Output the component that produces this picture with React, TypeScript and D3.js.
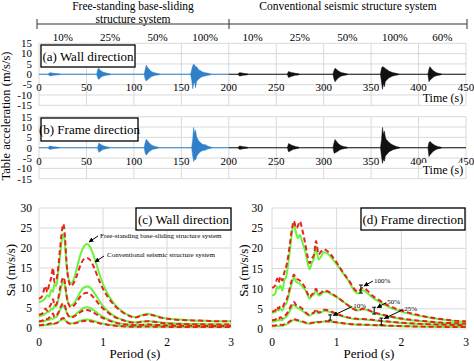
import React from "react";
import * as d3 from "d3";

// ---------- DATA ----------
const headerGroups = ["Free-standing base-sliding|structure system", "Conventional seismic structure system"];
const levelLabels = ["10%", "25%", "50%", "100%", "10%", "25%", "50%", "100%", "60%"];
const levelTimes = [25, 75, 125, 175, 225, 275, 325, 375, 425];
const timeTicks = [0, 50, 100, 150, 200, 250, 300, 350, 400, 450];
const accTicks = [-15, -10, -5, 0, 5, 10, 15];
const saTicks = [0, 5, 10, 15, 20, 25, 30];
const periodTicks = [0, 1, 2, 3];

// bursts: start time (s), 1-s envelope samples (upper, lower) in m/s/s
type Burst = { start: number; up: number[]; lo: number[] };
const wallFS: Burst[] = [
  { start: 10, up: [0.3, 0.6, 0.8, 0.7, 0.6, 0.5, 0.5, 0.4, 0.4, 0.3, 0.3, 0.2, 0.2], lo: [-0.3, -0.6, -0.8, -0.7, -0.6, -0.5, -0.4, -0.4, -0.3, -0.3, -0.2, -0.2, -0.2] },
  { start: 61, up: [0.5, 2.5, 3.0, 2.2, 1.8, 1.5, 1.2, 1.0, 0.9, 0.8, 0.6, 0.5, 0.4, 0.3, 0.2], lo: [-0.5, -1.8, -2.5, -2.0, -1.6, -1.2, -1.0, -0.8, -0.7, -0.6, -0.5, -0.4, -0.3, -0.3, -0.2] },
  { start: 111, up: [0.5, 2.5, 4.5, 3.5, 3.0, 2.6, 2.0, 1.5, 1.2, 1.0, 0.9, 0.7, 0.6, 0.5, 0.4, 0.3, 0.2], lo: [-0.5, -2.5, -3.2, -2.8, -2.5, -2.0, -1.6, -1.3, -1.0, -0.9, -0.7, -0.6, -0.5, -0.4, -0.3, -0.3, -0.2] },
  { start: 160, up: [0.5, 2.5, 4.0, 5.0, 4.5, 3.5, 3.8, 3.0, 2.5, 2.0, 1.8, 1.5, 1.2, 1.0, 0.9, 0.8, 0.7, 0.6, 0.5, 0.4, 0.3, 0.2], lo: [-0.5, -3.0, -7.0, -4.5, -4.0, -6.5, -3.5, -3.0, -2.5, -2.0, -1.7, -1.4, -1.2, -1.0, -0.9, -0.8, -0.7, -0.6, -0.5, -0.4, -0.3, -0.2] },
];
const frameFS: Burst[] = [
  { start: 10, up: [0.3, 0.7, 0.8, 0.7, 0.6, 0.5, 0.5, 0.4, 0.3, 0.3, 0.2, 0.2], lo: [-0.3, -0.7, -0.8, -0.7, -0.6, -0.5, -0.4, -0.4, -0.3, -0.3, -0.2, -0.2] },
  { start: 62, up: [0.5, 2.2, 2.0, 1.6, 1.4, 1.1, 0.9, 0.8, 0.6, 0.5, 0.4, 0.3, 0.2], lo: [-0.5, -2.2, -2.0, -1.6, -1.3, -1.0, -0.8, -0.7, -0.6, -0.5, -0.4, -0.3, -0.2] },
  { start: 111, up: [0.5, 2.5, 4.0, 3.6, 3.0, 2.4, 1.9, 1.5, 1.2, 1.0, 0.8, 0.7, 0.5, 0.4, 0.3, 0.2], lo: [-0.5, -2.8, -3.6, -3.0, -2.5, -2.0, -1.6, -1.3, -1.0, -0.8, -0.7, -0.6, -0.5, -0.4, -0.3, -0.2] },
  { start: 161, up: [0.5, 4.0, 9.8, 7.0, 8.5, 5.5, 4.5, 3.5, 3.0, 2.5, 2.2, 1.8, 1.6, 1.4, 1.6, 1.2, 1.0, 0.8, 0.6, 0.5, 0.3, 0.2], lo: [-0.5, -4.0, -6.8, -5.5, -6.0, -4.5, -3.5, -3.0, -2.5, -2.0, -1.8, -1.5, -1.3, -1.2, -1.3, -1.0, -0.8, -0.6, -0.5, -0.4, -0.3, -0.2] },
];
const wallCS: Burst[] = [
  { start: 210, up: [0.3, 0.7, 0.8, 0.7, 0.6, 0.5, 0.4, 0.4, 0.3, 0.3, 0.2], lo: [-0.3, -0.7, -0.8, -0.7, -0.6, -0.5, -0.4, -0.4, -0.3, -0.3, -0.2] },
  { start: 262, up: [0.5, 1.3, 1.2, 1.0, 0.9, 0.8, 0.7, 0.6, 0.5, 0.4, 0.4, 0.3, 0.2], lo: [-0.5, -1.5, -1.4, -1.2, -1.0, -0.9, -0.7, -0.6, -0.5, -0.4, -0.4, -0.3, -0.2] },
  { start: 310, up: [0.5, 2.0, 2.9, 2.6, 2.2, 1.8, 1.5, 1.2, 1.0, 0.8, 0.7, 0.6, 0.5, 0.4, 0.3, 0.2], lo: [-0.5, -2.5, -3.6, -3.0, -2.4, -2.0, -1.6, -1.3, -1.0, -0.8, -0.7, -0.6, -0.5, -0.4, -0.3, -0.2] },
  { start: 360, up: [0.5, 3.0, 3.7, 3.5, 3.2, 2.8, 2.5, 2.2, 1.8, 1.5, 1.3, 1.1, 1.0, 0.8, 0.7, 0.6, 0.5, 0.4, 0.3, 0.2], lo: [-0.5, -4.0, -7.3, -4.5, -6.0, -3.5, -3.0, -2.5, -2.0, -1.7, -1.4, -1.2, -1.0, -0.8, -0.7, -0.6, -0.5, -0.4, -0.3, -0.2] },
  { start: 410, up: [0.5, 2.5, 3.7, 3.0, 2.5, 2.0, 1.6, 1.3, 1.0, 0.8, 0.6, 0.5, 0.4, 0.3, 0.2], lo: [-0.5, -3.6, -2.8, -2.5, -2.0, -1.6, -1.3, -1.0, -0.8, -0.7, -0.6, -0.5, -0.4, -0.3, -0.2] },
];
const frameCS: Burst[] = [
  { start: 210, up: [0.3, 0.7, 0.8, 0.7, 0.6, 0.5, 0.4, 0.4, 0.3, 0.3, 0.2], lo: [-0.3, -0.7, -0.8, -0.7, -0.6, -0.5, -0.4, -0.4, -0.3, -0.3, -0.2] },
  { start: 262, up: [0.5, 2.0, 1.8, 1.5, 1.3, 1.1, 0.9, 0.8, 0.6, 0.5, 0.4, 0.3, 0.2], lo: [-0.5, -2.0, -1.8, -1.5, -1.3, -1.0, -0.8, -0.7, -0.6, -0.5, -0.4, -0.3, -0.2] },
  { start: 310, up: [0.5, 2.5, 4.0, 3.4, 2.8, 2.2, 1.8, 1.4, 1.1, 0.9, 0.7, 0.6, 0.5, 0.4, 0.3, 0.2], lo: [-0.5, -2.7, -2.5, -2.3, -2.0, -1.7, -1.4, -1.1, -0.9, -0.7, -0.6, -0.5, -0.4, -0.3, -0.3, -0.2] },
  { start: 360, up: [0.5, 4.0, 9.8, 6.5, 8.0, 5.0, 4.0, 3.5, 3.0, 2.5, 2.2, 1.8, 1.5, 1.3, 1.1, 0.9, 0.7, 0.5, 0.4, 0.3, 0.2], lo: [-0.5, -4.5, -7.6, -5.5, -6.5, -4.0, -3.5, -3.0, -2.5, -2.0, -1.7, -1.5, -1.2, -1.0, -0.9, -0.7, -0.6, -0.5, -0.4, -0.3, -0.2] },
  { start: 410, up: [0.5, 2.5, 3.0, 2.6, 2.2, 1.8, 1.5, 1.2, 1.0, 0.8, 0.6, 0.5, 0.4, 0.3, 0.2], lo: [-0.5, -4.3, -3.5, -3.0, -2.5, -2.0, -1.6, -1.3, -1.0, -0.8, -0.6, -0.5, -0.4, -0.3, -0.2] },
];

// response spectra, wall direction (c)
const periodsC = [0, 0.05, 0.1, 0.13, 0.16, 0.19, 0.22, 0.24, 0.27, 0.3, 0.33, 0.36, 0.38, 0.4, 0.43, 0.46, 0.5, 0.55, 0.6, 0.65, 0.7, 0.75, 0.8, 0.85, 0.9, 0.95, 1.0, 1.1, 1.2, 1.3, 1.4, 1.5, 1.6, 1.7, 1.8, 1.9, 2.0, 2.2, 2.4, 2.6, 2.8, 3.0];
const wallFS100 = [6.5, 6.8, 7.5, 8.2, 7.8, 9.5, 9, 11, 10.5, 14, 18, 22.5, 23.5, 22, 16, 12.5, 11.2, 12.5, 15.5, 18.5, 20.3, 21, 20.2, 18.3, 15.8, 13.2, 11, 7.8, 5.6, 4.2, 3.2, 2.7, 3.2, 3.5, 3.2, 2.7, 2.4, 2.1, 1.9, 1.8, 1.7, 1.7];
const wallCS100 = [7.3, 8, 10.5, 9, 11, 12.5, 15, 11.5, 12, 15, 20, 24.5, 26, 24, 16.5, 12, 10.5, 11.5, 13.5, 15.8, 17.2, 17.5, 17, 15.5, 13.5, 11.5, 9.8, 7.2, 5.3, 4.0, 3.1, 2.6, 3.1, 3.4, 3.1, 2.6, 2.3, 2.0, 1.9, 1.8, 1.7, 1.7];
const wallFS50 = [3.0, 3.2, 3.6, 4.0, 4.1, 4.8, 4.7, 5.5, 5.4, 7, 9, 11, 11.5, 11, 8, 6.2, 5.6, 6.2, 7.6, 9.1, 10.1, 10.4, 10.1, 9.1, 7.9, 6.6, 5.5, 3.9, 2.8, 2.1, 1.6, 1.4, 1.6, 1.75, 1.6, 1.4, 1.25, 1.1, 1.0, 0.95, 0.9, 0.9];
const wallCS50 = [3.3, 3.6, 4.8, 4.3, 5.2, 6.0, 7.2, 5.6, 5.9, 7.4, 10, 12, 12.7, 11.8, 8.2, 6, 5.2, 5.7, 6.7, 7.9, 8.6, 8.8, 8.5, 7.7, 6.7, 5.7, 4.9, 3.6, 2.6, 2.0, 1.55, 1.3, 1.55, 1.7, 1.55, 1.3, 1.15, 1.0, 0.95, 0.9, 0.85, 0.85];
const wallFS25 = [1.5, 1.6, 1.8, 2.0, 2.0, 2.4, 2.3, 2.7, 2.7, 3.5, 4.5, 5.3, 5.5, 5.2, 4.0, 3.1, 2.8, 3.1, 3.8, 4.5, 5.0, 5.2, 5.0, 4.5, 3.9, 3.3, 2.8, 2.0, 1.4, 1.05, 0.85, 0.75, 0.8, 0.88, 0.8, 0.72, 0.65, 0.6, 0.55, 0.5, 0.5, 0.5];
const wallCS25 = [1.7, 1.8, 2.4, 2.2, 2.6, 3.0, 3.6, 2.8, 3.0, 3.8, 5.0, 5.9, 6.2, 5.8, 4.1, 3.0, 2.6, 2.9, 3.4, 4.0, 4.4, 4.5, 4.3, 3.9, 3.4, 2.9, 2.5, 1.8, 1.3, 1.0, 0.8, 0.7, 0.78, 0.85, 0.78, 0.7, 0.62, 0.58, 0.53, 0.5, 0.48, 0.48];
const wallFS10 = [0.6, 0.65, 0.75, 0.8, 0.8, 0.95, 0.95, 1.1, 1.1, 1.4, 1.8, 2.1, 2.2, 2.1, 1.6, 1.25, 1.1, 1.25, 1.5, 1.8, 2.0, 2.1, 2.0, 1.8, 1.55, 1.3, 1.1, 0.8, 0.6, 0.45, 0.38, 0.33, 0.35, 0.38, 0.35, 0.32, 0.3, 0.28, 0.26, 0.25, 0.24, 0.24];
const wallCS10 = [0.7, 0.75, 1.0, 0.9, 1.05, 1.2, 1.45, 1.1, 1.2, 1.5, 2.0, 2.4, 2.5, 2.3, 1.65, 1.2, 1.05, 1.15, 1.35, 1.6, 1.75, 1.8, 1.7, 1.55, 1.35, 1.15, 1.0, 0.72, 0.55, 0.42, 0.35, 0.3, 0.33, 0.36, 0.33, 0.3, 0.28, 0.26, 0.24, 0.23, 0.22, 0.22];

// response spectra, frame direction (d)
const periodsD = [0, 0.05, 0.08, 0.1, 0.13, 0.16, 0.19, 0.22, 0.25, 0.28, 0.31, 0.34, 0.37, 0.4, 0.43, 0.47, 0.51, 0.55, 0.58, 0.62, 0.65, 0.68, 0.72, 0.76, 0.8, 0.85, 0.9, 1.0, 1.1, 1.2, 1.27, 1.33, 1.4, 1.47, 1.55, 1.65, 1.8, 2.0, 2.2, 2.4, 2.6, 2.8, 3.0];
const frameFS100 = [8.3, 8.8, 10.5, 10, 10.8, 9.5, 12, 13, 16, 20, 24, 26.3, 24, 22.5, 23.3, 21.5, 19.5, 16.5, 14.8, 16.5, 17.5, 20.5, 17.2, 18, 19, 18.8, 18, 16, 13.8, 11.5, 9.5, 8.8, 9.6, 9.0, 7.8, 6.8, 5.5, 4.3, 3.5, 2.9, 2.4, 2.0, 1.8];
const frameCS100 = [10.2, 10.8, 12.5, 11.5, 13, 12, 14, 15.5, 18, 21.5, 25, 26.8, 25, 25.5, 26.7, 24.5, 21.5, 18, 16.3, 17.5, 18.5, 21.8, 18.5, 19.2, 19.8, 19.4, 18.6, 16.5, 14, 11.8, 10, 9.2, 10.2, 9.6, 8.3, 7.2, 5.8, 4.6, 3.7, 3.0, 2.5, 2.1, 1.9];
const frameFS50 = [4.0, 4.2, 4.8, 4.6, 5.0, 4.6, 5.8, 6.3, 7.8, 9.8, 11.5, 12.8, 11.8, 11.5, 11.2, 10.5, 9.8, 8.5, 7.5, 8.3, 8.6, 9.7, 8.3, 8.6, 9.2, 9.2, 8.8, 7.9, 6.8, 5.6, 4.9, 4.6, 4.9, 4.7, 4.2, 3.7, 3.1, 2.5, 2.1, 1.8, 1.55, 1.4, 1.3];
const frameCS50 = [4.3, 4.6, 5.5, 5.0, 5.6, 5.3, 6.3, 7.0, 8.5, 10.5, 12.3, 13.5, 12.5, 12.3, 12.0, 11.3, 10.3, 8.8, 7.9, 8.6, 9.0, 10.0, 8.7, 9.0, 9.5, 9.4, 9.0, 8.0, 6.8, 5.6, 4.9, 4.6, 5.0, 4.8, 4.3, 3.8, 3.2, 2.6, 2.2, 1.9, 1.6, 1.45, 1.35];
const frameFS25 = [1.8, 1.9, 2.2, 2.1, 2.3, 2.2, 2.7, 3.0, 3.7, 4.6, 5.5, 6.0, 5.5, 5.2, 5.0, 4.5, 4.0, 3.5, 3.3, 3.7, 3.9, 4.6, 3.9, 4.1, 4.5, 4.4, 4.2, 3.6, 3.1, 2.7, 2.5, 2.4, 2.4, 2.3, 2.2, 2.0, 1.8, 1.5, 1.3, 1.15, 1.05, 1.0, 0.95];
const frameCS25 = [2.2, 2.3, 2.8, 2.5, 2.9, 2.7, 3.2, 3.6, 4.3, 5.3, 6.2, 6.7, 6.0, 5.6, 5.5, 5.0, 4.3, 3.7, 3.5, 3.9, 4.1, 4.9, 4.1, 4.3, 4.8, 4.7, 4.4, 3.8, 3.2, 2.8, 2.6, 2.5, 2.5, 2.4, 2.3, 2.1, 1.85, 1.55, 1.35, 1.2, 1.1, 1.0, 0.95];
const frameFS10 = [0.6, 0.65, 0.8, 0.75, 0.85, 0.8, 1.0, 1.1, 1.4, 1.7, 2.0, 2.3, 2.1, 2.0, 1.9, 1.7, 1.5, 1.35, 1.3, 1.45, 1.55, 1.8, 1.6, 1.7, 1.85, 1.85, 1.8, 1.6, 1.4, 1.2, 1.1, 1.05, 1.05, 1.0, 0.95, 0.9, 0.8, 0.7, 0.62, 0.56, 0.52, 0.5, 0.48];
const frameCS10 = [0.8, 0.85, 1.0, 0.95, 1.05, 1.0, 1.2, 1.35, 1.6, 1.95, 2.3, 2.5, 2.3, 2.2, 2.1, 1.9, 1.65, 1.45, 1.4, 1.55, 1.65, 1.95, 1.7, 1.8, 1.95, 1.95, 1.85, 1.65, 1.45, 1.25, 1.15, 1.1, 1.1, 1.05, 1.0, 0.92, 0.82, 0.72, 0.64, 0.58, 0.54, 0.51, 0.49];

// range markers in (d): label, period, Sa low, Sa high
const markLabels = ["100%", "50%", "25%", "10%"];
const markPeriods = [1.375, 1.58, 1.69, 0.9];
const markLow = [8.9, 3.7, 1.0, 2.2];
const markHigh = [10.9, 5.4, 2.7, 3.5];

// ---------- STYLE ----------
const FONT = "Liberation Serif";
const GRID = "#d9d9d9";
const BLUE = "#2f80c8";
const BLACK = "#111111";
const GREEN = "#6cf23c";
const RED = "#e8231e";

const xT = d3.scaleLinear().domain([0, 450]).range([39, 466]);
const yA = d3.scaleLinear().domain([-15, 15]).range([105.3, 43.3]);
const yB = d3.scaleLinear().domain([-15, 15]).range([178.7, 116.7]);
const xC = d3.scaleLinear().domain([0, 3]).range([39, 231]);
const yC = d3.scaleLinear().domain([0, 30]).range([328, 208]);
const xD = d3.scaleLinear().domain([0, 3]).range([272, 466]);
const yD = d3.scaleLinear().domain([0, 30]).range([329, 208]);

function burstPath(b: Burst, y: d3.ScaleLinear<number, number>) {
  const pts = b.up.map((u, i) => ({ t: b.start + i, u, l: b.lo[i] }));
  const area = d3.area<any>().x((d) => xT(d.t)).y0((d) => y(d.l)).y1((d) => y(d.u)).curve(d3.curveLinear);
  return area(pts) || "";
}

const T = (p: any) => <text style={{ fontFamily: FONT }} {...p} />;

function TimePanel({ y, fs, cs, label, timeY }: any) {
  const zero = y(0);
  return (
    <g>
      {accTicks.map((v) => (
        <line key={"h" + v} x1={xT(0)} x2={xT(450)} y1={y(v)} y2={y(v)} stroke={GRID} strokeWidth={1} />
      ))}
      {timeTicks.map((v) => (
        <line key={"v" + v} x1={xT(v)} x2={xT(v)} y1={y(15)} y2={y(-15)} stroke={GRID} strokeWidth={1} />
      ))}
      {accTicks.map((v) => (
        <T key={"yl" + v} x={32} y={y(v)} dy="0.35em" textAnchor="end" fontSize={11}>{v}</T>
      ))}
      <line x1={xT(0)} x2={xT(200)} y1={zero} y2={zero} stroke={BLUE} strokeWidth={1.1} />
      <line x1={xT(200)} x2={xT(450)} y1={zero} y2={zero} stroke={BLACK} strokeWidth={1.1} />
      {fs.map((b: Burst, i: number) => (
        <path key={"fs" + i} d={burstPath(b, y)} fill={BLUE} stroke={BLUE} strokeWidth={0.5} />
      ))}
      {cs.map((b: Burst, i: number) => (
        <path key={"cs" + i} d={burstPath(b, y)} fill={BLACK} stroke={BLACK} strokeWidth={0.5} />
      ))}
      {timeTicks.map((v) => (
        <T key={"xl" + v} x={xT(v)} y={zero + 13} dy="0.35em" textAnchor="middle" fontSize={11}>{v}</T>
      ))}
      <rect x={422} y={timeY - 7} width={43} height={14} fill="white" />
      <T x={443} y={timeY} dy="0.35em" textAnchor="middle" fontSize={12}>Time (s)</T>
      <rect x={label.x} y={label.y} width={label.w} height={label.h} fill="white" stroke="black" strokeWidth={1.3} />
      <T x={label.x + label.w / 2} y={label.y + label.h / 2} dy="0.35em" textAnchor="middle" fontSize={13}>{label.text}</T>
    </g>
  );
}

function SpectrumPanel({ x, y, periods, fsSeries, csSeries, label, ylabelX, tickRight }: any) {
  const line = (vals: number[]) =>
    d3.line<number>().x((_, i) => x(periods[i])).y((d) => y(d)).curve(d3.curveMonotoneX)(vals) || "";
  return (
    <g>
      {saTicks.map((v) => (
        <line key={"h" + v} x1={x(0)} x2={x(3)} y1={y(v)} y2={y(v)} stroke={GRID} strokeWidth={1} />
      ))}
      {periodTicks.map((v) => (
        <line key={"v" + v} x1={x(v)} x2={x(v)} y1={y(0)} y2={y(30)} stroke={GRID} strokeWidth={1} />
      ))}
      {saTicks.map((v) => (
        <T key={"yl" + v} x={tickRight} y={y(v)} dy="0.35em" textAnchor="end" fontSize={11.5}>{v}</T>
      ))}
      {periodTicks.map((v) => (
        <T key={"xl" + v} x={x(v)} y={342} dy="0.35em" textAnchor="middle" fontSize={11.5}>{v}</T>
      ))}
      <T x={(x(0) + x(3)) / 2} y={353} dy="0.35em" textAnchor="middle" fontSize={13}>Period (s)</T>
      <T transform={`translate(${ylabelX},${(y(0) + y(30)) / 2 + 2}) rotate(-90)`} dy="0.35em" textAnchor="middle" fontSize={13}>Sa (m/s/s)</T>
      {fsSeries.map((s: number[], i: number) => (
        <path key={"g" + i} d={line(s)} fill="none" stroke={GREEN} strokeWidth={2} />
      ))}
      {csSeries.map((s: number[], i: number) => (
        <path key={"r" + i} d={line(s)} fill="none" stroke={RED} strokeWidth={2} strokeDasharray="5,3" />
      ))}
      <rect x={label.x} y={label.y} width={label.w} height={label.h} fill="white" stroke="black" strokeWidth={1.3} />
      <T x={label.x + label.w / 2} y={label.y + label.h / 2} dy="0.35em" textAnchor="middle" fontSize={13}>{label.text}</T>
    </g>
  );
}

export default function App() {
  const [g1a, g1b] = headerGroups[0].split("|");
  const markOffsets = [
    { tx: 12, ty: -8, lx: 3, ly: -3 },
    { tx: 12, ty: -8, lx: 3, ly: -3 },
    { tx: 22, ty: -12, lx: 3, ly: -3 },
    { tx: 22, ty: -11, lx: 3, ly: -2 },
  ];
  return (
    <svg width={474} height={361} style={{ position: "absolute", left: 0, top: 0, background: "white" }}>
      <defs>
        <marker id="ah" viewBox="0 0 10 10" refX="9" refY="5" markerWidth="5" markerHeight="5" orient="auto">
          <path d="M0,0 L10,5 L0,10 z" fill="black" />
        </marker>
      </defs>
      <rect width={474} height={361} fill="white" />
      {/* header */}
      <T x={133} y={6} dy="0.35em" textAnchor="middle" fontSize={11.5}>{g1a}</T>
      <T x={133} y={18.5} dy="0.35em" textAnchor="middle" fontSize={11.5}>{g1b}</T>
      <T x={348} y={6} dy="0.35em" textAnchor="middle" fontSize={11.5}>{headerGroups[1]}</T>
      <line x1={37} x2={467} y1={24} y2={24} stroke="#333" strokeWidth={1} />
      {[37, 229, 467].map((x) => (
        <line key={x} x1={x} x2={x} y1={19} y2={29} stroke="#333" strokeWidth={1} />
      ))}
      {levelLabels.map((l, i) => (
        <T key={i} x={xT(levelTimes[i])} y={37} dy="0.35em" textAnchor="middle" fontSize={11}>{l}</T>
      ))}
      <TimePanel y={yA} fs={wallFS} cs={wallCS} timeY={98} label={{ x: 41, y: 45, w: 94, h: 22, text: "(a) Wall direction" }} />
      <TimePanel y={yB} fs={frameFS} cs={frameCS} timeY={170} label={{ x: 41, y: 118, w: 97, h: 23, text: "(b) Frame direction" }} />
      <T transform="translate(5.5,116) rotate(-90)" dy="0.35em" textAnchor="middle" fontSize={12.5}>Table acceleration (m/s/s)</T>

      <SpectrumPanel x={xC} y={yC} periods={periodsC}
        fsSeries={[wallFS10, wallFS25, wallFS50, wallFS100]}
        csSeries={[wallCS10, wallCS25, wallCS50, wallCS100]}
        tickRight={32} ylabelX={10}
        label={{ x: 136, y: 208, w: 95, h: 22, text: "(c) Wall direction" }} />
      <SpectrumPanel x={xD} y={yD} periods={periodsD}
        fsSeries={[frameFS10, frameFS25, frameFS50, frameFS100]}
        csSeries={[frameCS10, frameCS25, frameCS50, frameCS100]}
        tickRight={263} ylabelX={243}
        label={{ x: 361, y: 208, w: 104, h: 22, text: "(d) Frame direction" }} />

      {/* (c) annotations */}
      <line x1={98} y1={236} x2={89} y2={242} stroke="black" strokeWidth={1} markerEnd="url(#ah)" />
      <T x={100} y={236} dy="0.35em" fontSize={7}>Free-standing base-sliding  structure system</T>
      <line x1={104} y1={256} x2={95} y2={262} stroke="black" strokeWidth={1} markerEnd="url(#ah)" />
      <T x={107} y={255} dy="0.35em" fontSize={7}>Conventional seismic structure system</T>

      {/* (d) range markers */}
      {markLabels.map((l, i) => {
        const mx = xD(markPeriods[i]);
        const y1 = yD(markLow[i]);
        const y2 = yD(markHigh[i]);
        const mid = (y1 + y2) / 2;
        const o = markOffsets[i];
        return (
          <g key={l}>
            <line x1={mx} x2={mx} y1={y1} y2={y2} stroke="black" strokeWidth={1} />
            <line x1={mx - 2} x2={mx + 2} y1={y1} y2={y1} stroke="black" strokeWidth={1} />
            <line x1={mx - 2} x2={mx + 2} y1={y2} y2={y2} stroke="black" strokeWidth={1} />
            <line x1={mx + o.tx} y1={mid + o.ty} x2={mx + o.lx} y2={mid + o.ly} stroke="black" strokeWidth={1} markerEnd="url(#ah)" />
            <T x={mx + o.tx + 1} y={mid + o.ty - 1} dy="0.35em" fontSize={7}>{l}</T>
          </g>
        );
      })}
    </svg>
  );
}
